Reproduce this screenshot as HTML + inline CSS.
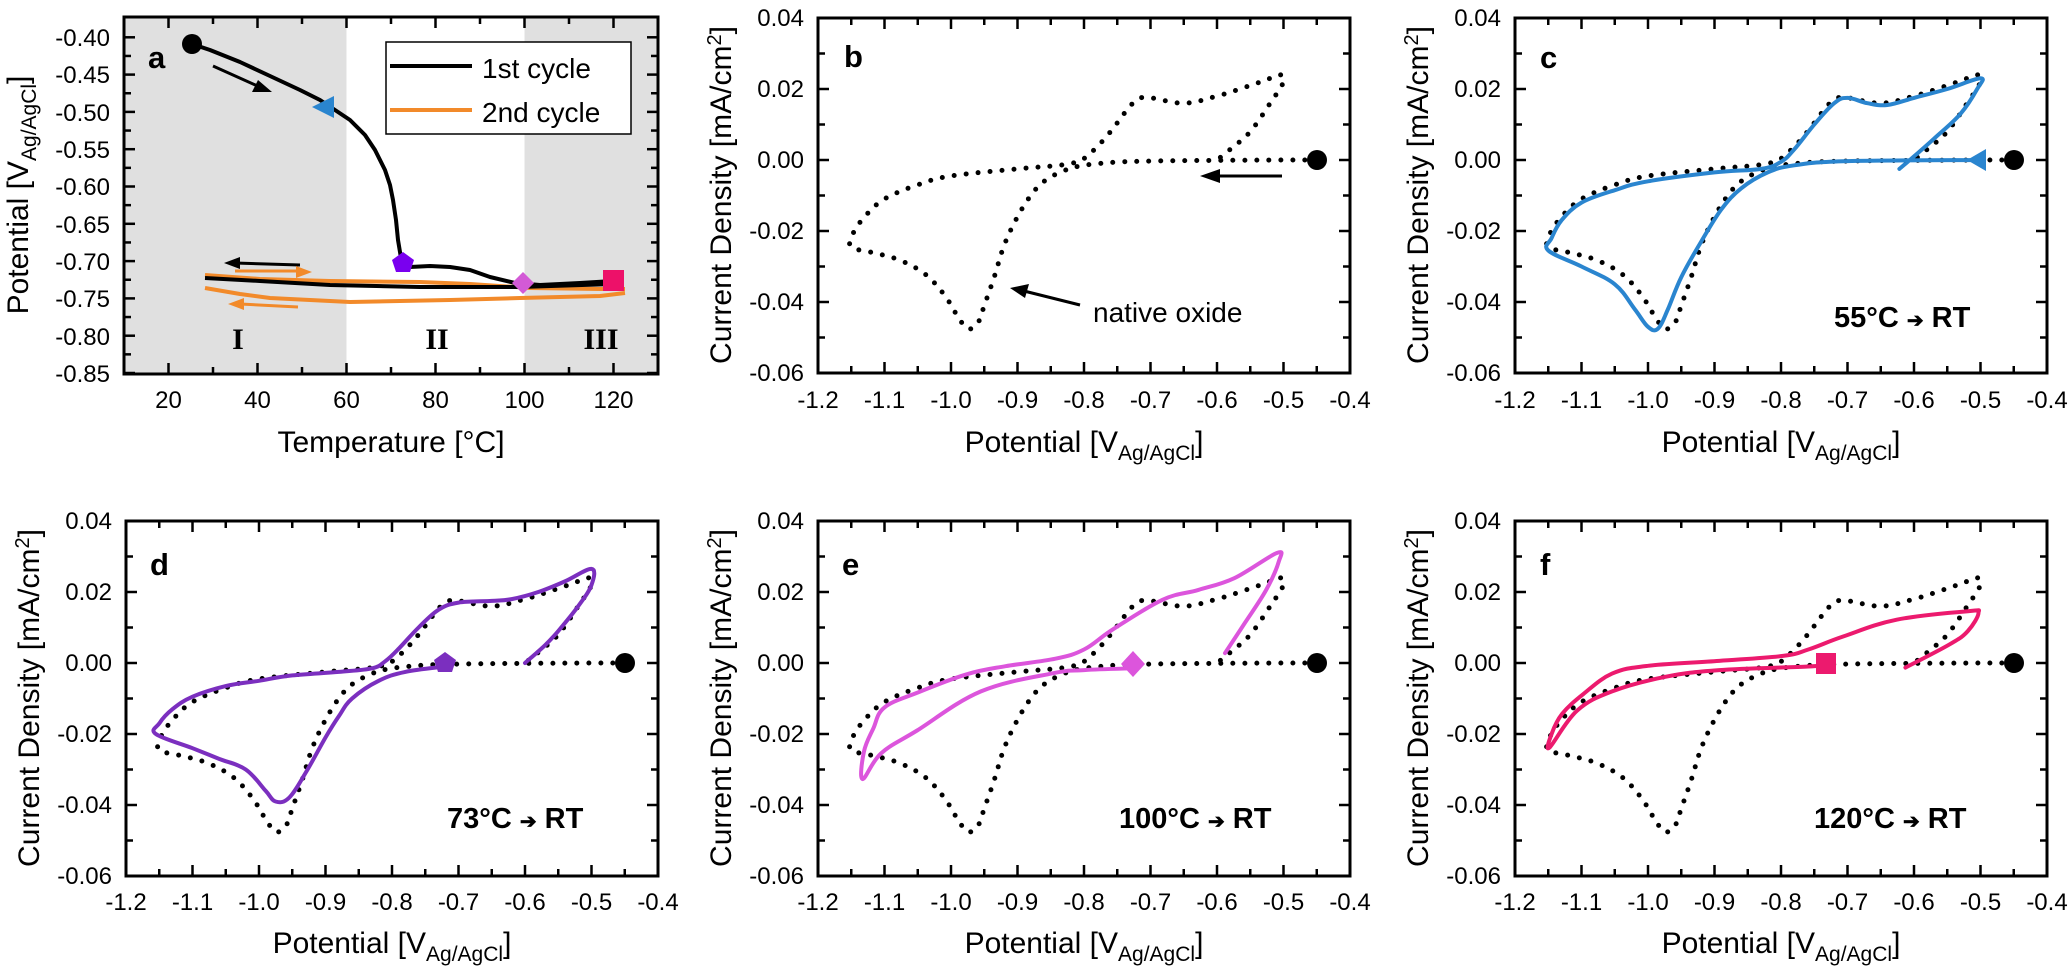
<!DOCTYPE html>
<html><head><meta charset="utf-8"><style>
html,body{margin:0;padding:0;background:#fff}
svg{display:block}
text{font-family:"Liberation Sans",Arial,sans-serif;fill:#000}
.tk{font-size:24px}
.tt{font-size:30px}
.lab{font-size:31px;font-weight:bold}
.ann{font-size:29px;font-weight:bold}
.rom{font-family:"Liberation Serif",serif;font-size:30px;font-weight:bold}
.dot{fill:none;stroke:#000;stroke-width:5;stroke-dasharray:0 12;stroke-linecap:round;stroke-linejoin:round}
.cv{fill:none;stroke-width:4;stroke-linejoin:round;stroke-linecap:round}
</style></head><body>
<svg id="s" width="2070" height="969" viewBox="0 0 2070 969" xmlns="http://www.w3.org/2000/svg">

<rect x="124" y="17" width="222.5" height="357" fill="#e0e0e0"/>
<rect x="524.5" y="17" width="133.5" height="357" fill="#e0e0e0"/>
<g id="ta"></g>
<rect x="124" y="17" width="534" height="357" fill="none" stroke="#000" stroke-width="3"/>
<rect x="386" y="42" width="245" height="92" fill="#fff" stroke="#000" stroke-width="1.5"/>
<line x1="390" y1="66" x2="472" y2="66" stroke="#000" stroke-width="4"/>
<line x1="390" y1="110" x2="472" y2="110" stroke="#f28a2a" stroke-width="4"/>
<text x="482" y="78" style="font-size:28px">1st cycle</text>
<text x="482" y="122" style="font-size:28px">2nd cycle</text>
<polyline fill="none" stroke="#f28a2a" stroke-width="4" stroke-linejoin="round" points="205,275 260,279 330,281 420,282 470,284 530,288 600,289 625,289"/>
<polyline fill="none" stroke="#f28a2a" stroke-width="4" stroke-linejoin="round" points="205,288 240,294 270,298 350,302 450,300 520,298 600,296 625,293"/>
<polyline fill="none" stroke="#000" stroke-width="4" stroke-linejoin="round" points="192,44 210,50 240,62 270,76 300,90 320,100 335,110 350,120 365,135 375,150 385,170 390,185 393,200 396,220 398,240 401,258 403,265 410,267 430,266 450,267 470,270 490,277 515,283 540,285 580,283 613,281"/>
<polyline fill="none" stroke="#000" stroke-width="4" stroke-linejoin="round" points="613,284 520,287 420,287 330,285 260,281 205,278"/>
<circle cx="192" cy="44" r="10" fill="#000"/>
<polygon points="312,107 334,96 334,118" fill="#2a85cf"/>
<polygon points="403,252 414,260 410,272 396,272 392,260" fill="#7a00ef"/>
<polygon points="523,272 534,283 523,294 512,283" fill="#d35ad6"/>
<rect x="603" y="270" width="21" height="21" fill="#ed1169"/>
<line x1="213" y1="66" x2="262" y2="88" stroke="#000" stroke-width="3"/><polygon points="272,92 252,92 258,80" fill="#000"/>
<line x1="300" y1="265" x2="235" y2="263" stroke="#000" stroke-width="3"/><polygon points="224,263 240,257 240,269" fill="#000"/>
<line x1="235" y1="271" x2="300" y2="271" stroke="#f28a2a" stroke-width="3"/><polygon points="312,272 296,266 296,278" fill="#f28a2a"/>
<line x1="298" y1="307" x2="240" y2="304" stroke="#f28a2a" stroke-width="3"/><polygon points="228,304 244,298 244,310" fill="#f28a2a"/>
<text class="rom" x="238" y="349" text-anchor="middle">I</text>
<text class="rom" x="437" y="349" text-anchor="middle">II</text>
<text class="rom" x="601" y="349" text-anchor="middle">III</text>
<text class="lab" x="148" y="68">a</text>
<g class="tk" text-anchor="end">
<text x="110" y="46">-0.40</text><text x="110" y="83">-0.45</text><text x="110" y="121">-0.50</text><text x="110" y="158">-0.55</text><text x="110" y="195">-0.60</text><text x="110" y="233">-0.65</text><text x="110" y="270">-0.70</text><text x="110" y="307">-0.75</text><text x="110" y="345">-0.80</text><text x="110" y="382">-0.85</text>
</g>
<g class="tk" text-anchor="middle">
<text x="168.5" y="408">20</text><text x="257.5" y="408">40</text><text x="346.5" y="408">60</text><text x="435.5" y="408">80</text><text x="524.5" y="408">100</text><text x="613.5" y="408">120</text>
</g>
<text class="tt" x="391" y="452" text-anchor="middle">Temperature [°C]</text>
<text class="tt" transform="translate(28,195) rotate(-90)" text-anchor="middle">Potential [V<tspan dy="8" style="font-size:21px">Ag/AgCl</tspan><tspan dy="-8">]</tspan></text>

<g id="tcv"></g>
<g id="curves"></g>

<circle cx="1317" cy="160" r="10" fill="#000"/>
<line x1="1282" y1="176" x2="1215" y2="176" stroke="#000" stroke-width="3"/><polygon points="1200,176 1220,169 1220,183" fill="#000"/>
<line x1="1080" y1="305" x2="1024" y2="291" stroke="#000" stroke-width="3"/><polygon points="1010,288 1029,284 1025,298" fill="#000"/>
<text x="1093" y="322" style="font-size:28px">native oxide</text>
<text class="lab" x="844" y="67">b</text>

<circle cx="2014" cy="160" r="10" fill="#000"/>
<polygon points="1967,160 1986,149 1986,171" fill="#2a85cf"/>
<text class="lab" x="1540" y="68">c</text>
<text class="ann" x="1834" y="327">55°C <tspan style="font-size:20px">➔</tspan> RT</text>

<circle cx="625" cy="663" r="10" fill="#000"/>
<polygon points="445,652 456,660 452,672 438,672 434,660" fill="#7b2fbf"/>
<text class="lab" x="150" y="575">d</text>
<text class="ann" x="447" y="828">73°C <tspan style="font-size:20px">➔</tspan> RT</text>

<circle cx="1317" cy="663" r="10" fill="#000"/>
<polygon points="1133,651 1145,664 1133,677 1121,664" fill="#dc55dc"/>
<text class="lab" x="842" y="575">e</text>
<text class="ann" x="1119" y="828">100°C <tspan style="font-size:20px">➔</tspan> RT</text>

<circle cx="2014" cy="663" r="10" fill="#000"/>
<rect x="1816" y="653" width="20" height="21" fill="#ec1a6e"/>
<text class="lab" x="1540" y="575">f</text>
<text class="ann" x="1814" y="828">120°C <tspan style="font-size:20px">➔</tspan> RT</text>

<g class="tk" text-anchor="end">
<text x="804" y="26">0.04</text><text x="804" y="97">0.02</text><text x="804" y="168">0.00</text><text x="804" y="239">-0.02</text><text x="804" y="310">-0.04</text><text x="804" y="381">-0.06</text>
<text x="1501" y="26">0.04</text><text x="1501" y="97">0.02</text><text x="1501" y="168">0.00</text><text x="1501" y="239">-0.02</text><text x="1501" y="310">-0.04</text><text x="1501" y="381">-0.06</text>
<text x="112" y="529">0.04</text><text x="112" y="600">0.02</text><text x="112" y="671">0.00</text><text x="112" y="742">-0.02</text><text x="112" y="813">-0.04</text><text x="112" y="884">-0.06</text>
<text x="804" y="529">0.04</text><text x="804" y="600">0.02</text><text x="804" y="671">0.00</text><text x="804" y="742">-0.02</text><text x="804" y="813">-0.04</text><text x="804" y="884">-0.06</text>
<text x="1501" y="529">0.04</text><text x="1501" y="600">0.02</text><text x="1501" y="671">0.00</text><text x="1501" y="742">-0.02</text><text x="1501" y="813">-0.04</text><text x="1501" y="884">-0.06</text>
</g>
<g class="tk" text-anchor="middle">
<g transform="translate(818,408)"><text x="0">-1.2</text><text x="66.5">-1.1</text><text x="133">-1.0</text><text x="199.5">-0.9</text><text x="266">-0.8</text><text x="332.5">-0.7</text><text x="399">-0.6</text><text x="465.5">-0.5</text><text x="532">-0.4</text></g>
<g transform="translate(1515,408)"><text x="0">-1.2</text><text x="66.5">-1.1</text><text x="133">-1.0</text><text x="199.5">-0.9</text><text x="266">-0.8</text><text x="332.5">-0.7</text><text x="399">-0.6</text><text x="465.5">-0.5</text><text x="532">-0.4</text></g>
<g transform="translate(126,910)"><text x="0">-1.2</text><text x="66.5">-1.1</text><text x="133">-1.0</text><text x="199.5">-0.9</text><text x="266">-0.8</text><text x="332.5">-0.7</text><text x="399">-0.6</text><text x="465.5">-0.5</text><text x="532">-0.4</text></g>
<g transform="translate(818,910)"><text x="0">-1.2</text><text x="66.5">-1.1</text><text x="133">-1.0</text><text x="199.5">-0.9</text><text x="266">-0.8</text><text x="332.5">-0.7</text><text x="399">-0.6</text><text x="465.5">-0.5</text><text x="532">-0.4</text></g>
<g transform="translate(1515,910)"><text x="0">-1.2</text><text x="66.5">-1.1</text><text x="133">-1.0</text><text x="199.5">-0.9</text><text x="266">-0.8</text><text x="332.5">-0.7</text><text x="399">-0.6</text><text x="465.5">-0.5</text><text x="532">-0.4</text></g>
</g>
<g class="tt" text-anchor="middle">
<text x="1084" y="452">Potential [V<tspan dy="8" style="font-size:21px">Ag/AgCl</tspan><tspan dy="-8">]</tspan></text>
<text x="1781" y="452">Potential [V<tspan dy="8" style="font-size:21px">Ag/AgCl</tspan><tspan dy="-8">]</tspan></text>
<text x="392" y="953">Potential [V<tspan dy="8" style="font-size:21px">Ag/AgCl</tspan><tspan dy="-8">]</tspan></text>
<text x="1084" y="953">Potential [V<tspan dy="8" style="font-size:21px">Ag/AgCl</tspan><tspan dy="-8">]</tspan></text>
<text x="1781" y="953">Potential [V<tspan dy="8" style="font-size:21px">Ag/AgCl</tspan><tspan dy="-8">]</tspan></text>
<text transform="translate(731,195) rotate(-90)">Current Density [mA/cm<tspan dy="-10" style="font-size:20px">2</tspan><tspan dy="10">]</tspan></text>
<text transform="translate(1428,195) rotate(-90)">Current Density [mA/cm<tspan dy="-10" style="font-size:20px">2</tspan><tspan dy="10">]</tspan></text>
<text transform="translate(39,698) rotate(-90)">Current Density [mA/cm<tspan dy="-10" style="font-size:20px">2</tspan><tspan dy="10">]</tspan></text>
<text transform="translate(731,698) rotate(-90)">Current Density [mA/cm<tspan dy="-10" style="font-size:20px">2</tspan><tspan dy="10">]</tspan></text>
<text transform="translate(1428,698) rotate(-90)">Current Density [mA/cm<tspan dy="-10" style="font-size:20px">2</tspan><tspan dy="10">]</tspan></text>
</g>
</svg>
<script>
(function(){
var NS="http://www.w3.org/2000/svg";
function ln(g,x1,y1,x2,y2,w){var l=document.createElementNS(NS,"line");l.setAttribute("x1",x1);l.setAttribute("y1",y1);l.setAttribute("x2",x2);l.setAttribute("y2",y2);l.setAttribute("stroke","#000");l.setAttribute("stroke-width",w||2.5);g.appendChild(l);}
var ga=document.getElementById("ta");
var L=124,R=658,T=17,B=374;
for(var t=10;t<=130;t+=10){var x=124+(t-10)*4.45;var len=(t%20==0)?11:7;ln(ga,x,B,x,B-len);ln(ga,x,T,x,T+len);}
for(var k=0;k<=19;k++){var v=-0.85+k*0.025;var y=37.3+(-0.40-v)*746;if(y<T+2)continue;var len=(k%2==0)?11:7;ln(ga,L,y,L+len,y);ln(ga,R,y,R-len,y);}
var gc=document.getElementById("tcv");
var P=[[818,18],[1515,18],[126,521],[818,521],[1515,521]];
P.forEach(function(p){var L=p[0],T=p[1],R=L+532,B=T+355;
var r=document.createElementNS(NS,"rect");r.setAttribute("x",L);r.setAttribute("y",T);r.setAttribute("width",532);r.setAttribute("height",355);r.setAttribute("fill","none");r.setAttribute("stroke","#000");r.setAttribute("stroke-width",3);gc.appendChild(r);
for(var k=0;k<=16;k++){var x=L+k*33.25;var len=(k%2==0)?11:7;ln(gc,x,B,x,B-len);ln(gc,x,T,x,T+len);}
for(var k=0;k<=10;k++){var y=T+k*35.5;var len=(k%2==0)?11:7;ln(gc,L,y,L+len,y);ln(gc,R,y,R-len,y);}
});
var ref=[-0.45,0,-0.5,0,-0.6,-0.1,-0.7,-0.3,-0.75,-0.6,-0.8,-1.5,-0.83,-3,-0.86,-6,-0.88,-10,-0.9,-16,-0.92,-24,-0.935,-33,-0.95,-41,-0.96,-46,-0.975,-47.5,-0.99,-44,-1.01,-38,-1.04,-32,-1.08,-28,-1.12,-26,-1.15,-24.5,-1.148,-21,-1.13,-16,-1.1,-11,-1.05,-7,-1.0,-4.5,-0.9,-2.5,-0.82,-1,-0.79,2,-0.76,8,-0.74,13,-0.72,17,-0.7,17.5,-0.65,16,-0.6,18,-0.55,21,-0.52,23,-0.505,24,-0.5,22,-0.52,16,-0.55,8,-0.58,3,-0.6,0];
var cc=[-0.5,0,-0.7,-0.3,-0.78,-1.5,-0.82,-3.5,-0.86,-8,-0.89,-14,-0.92,-23,-0.95,-33,-0.97,-42,-0.985,-47.5,-1.0,-47,-1.02,-42,-1.05,-35,-1.1,-30,-1.15,-25.5,-1.145,-22,-1.13,-17,-1.1,-12,-1.05,-8.5,-1.0,-6,-0.9,-3.5,-0.83,-2.5,-0.8,-0.5,-0.78,3,-0.75,10,-0.72,16,-0.7,17.5,-0.67,16,-0.64,15.5,-0.6,17.5,-0.55,20,-0.5,23,-0.505,20,-0.53,13,-0.57,6,-0.6,1,-0.622,-2.5];
var cd=[-0.72,-1,-0.78,-2.5,-0.82,-5,-0.86,-10,-0.88,-15,-0.9,-21,-0.93,-31,-0.955,-38,-0.975,-39,-0.99,-36,-1.02,-30,-1.06,-27,-1.1,-24,-1.155,-20,-1.15,-17,-1.13,-13,-1.1,-9.5,-1.05,-6.5,-1.0,-5,-0.95,-3.5,-0.88,-2.5,-0.83,-1.5,-0.81,0.5,-0.79,4,-0.76,10,-0.73,15,-0.7,17,-0.65,17.5,-0.62,18,-0.58,20,-0.54,23,-0.5,26.5,-0.5,22,-0.52,16,-0.55,9,-0.57,5,-0.6,0];
var ce=[-0.726,-1.5,-0.8,-2,-0.847,-2.9,-0.955,-8,-1.051,-19,-1.105,-25.4,-1.133,-32.7,-1.131,-25,-1.117,-18.5,-1.1,-12.5,-1.05,-8.3,-0.977,-3.2,-0.918,-0.9,-0.843,1.2,-0.8,3.8,-0.757,9.4,-0.682,17.8,-0.628,20.6,-0.574,23.9,-0.51,31,-0.507,28.6,-0.526,20.6,-0.558,11.3,-0.588,2.8];
var cf=[-0.732,-0.5,-0.759,-1,-0.893,-2,-0.974,-3.9,-1.054,-8,-1.107,-13.5,-1.148,-23.8,-1.145,-20,-1.129,-14.3,-1.097,-8.7,-1.054,-3,-1.0,-0.8,-0.893,0.6,-0.797,2,-0.759,3.8,-0.706,7.5,-0.626,12.2,-0.519,14.6,-0.503,14.1,-0.519,9,-0.546,5.3,-0.613,-1.3];
var gq=document.getElementById("curves");
function path(d,L,T,cls,col){var p=[];for(var i=0;i<d.length;i+=2){p.push([L+(d[i]+1.2)*665,T+(40-d[i+1])*3.55]);}
var s="M"+p[0][0].toFixed(1)+","+p[0][1].toFixed(1);
for(var i=0;i<p.length-1;i++){var p0=p[i>0?i-1:i],p1=p[i],p2=p[i+1],p3=p[i+2<p.length?i+2:i+1];var t=0.18;
var c1x=p1[0]+(p2[0]-p0[0])*t,c1y=p1[1]+(p2[1]-p0[1])*t,c2x=p2[0]-(p3[0]-p1[0])*t,c2y=p2[1]-(p3[1]-p1[1])*t;
s+=" C"+c1x.toFixed(1)+","+c1y.toFixed(1)+" "+c2x.toFixed(1)+","+c2y.toFixed(1)+" "+p2[0].toFixed(1)+","+p2[1].toFixed(1);}
var e=document.createElementNS(NS,"path");e.setAttribute("d",s);e.setAttribute("class",cls);if(col)e.setAttribute("stroke",col);gq.appendChild(e);}
P.forEach(function(p){path(ref,p[0],p[1],"dot");});
path(cc,1515,18,"cv","#2a85cf");
path(cd,126,521,"cv","#7b2fbf");
path(ce,818,521,"cv","#dc55dc");
path(cf,1515,521,"cv","#ec1a6e");
})();
</script>
</body></html>
